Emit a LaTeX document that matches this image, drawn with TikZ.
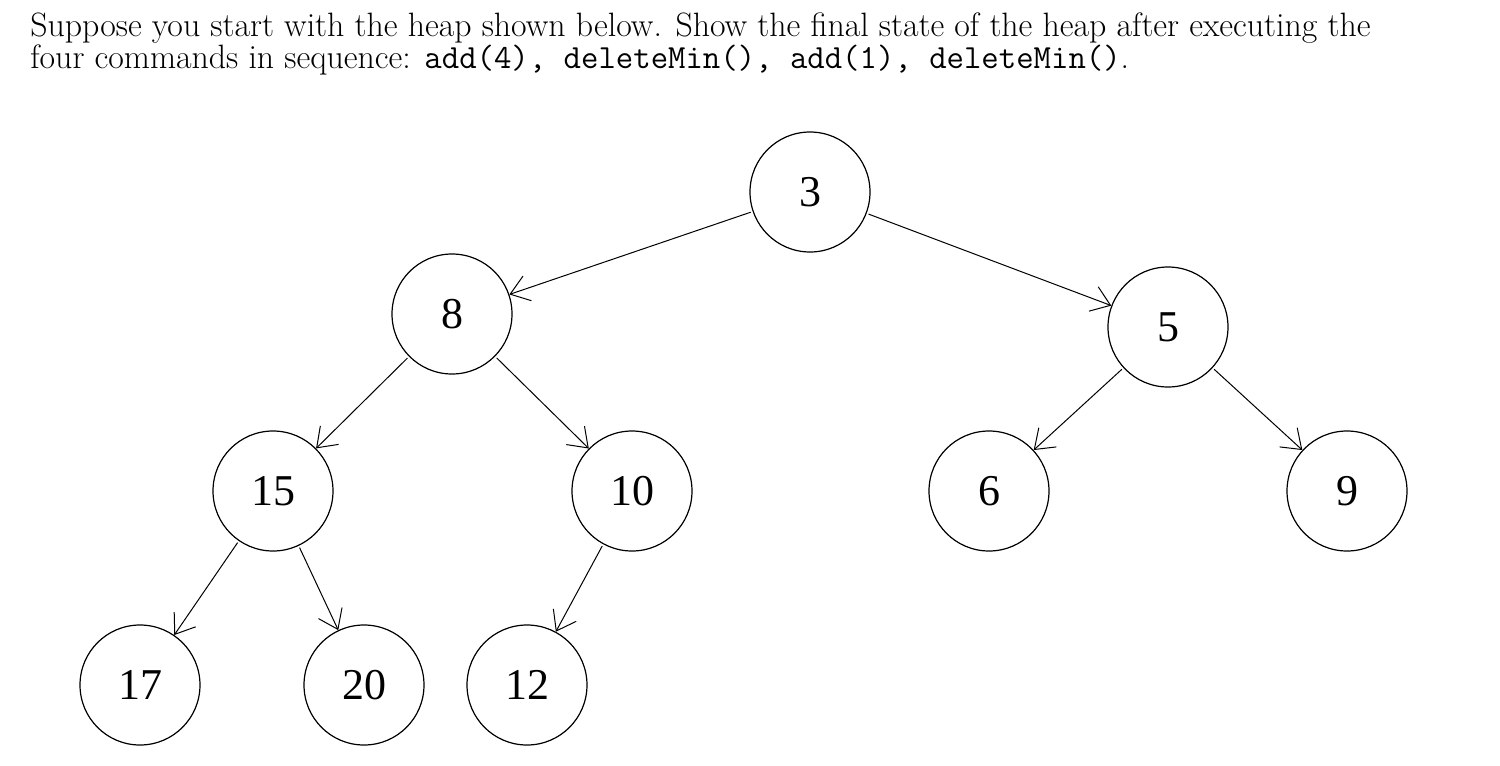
\documentclass[tikz,border=0pt]{standalone}
\usepackage{fontspec}
\newfontfamily\numfont{Liberation Serif}
\usetikzlibrary{arrows.meta}
\begin{document}
\begin{tikzpicture}[x=0.5pt,y=-0.5pt,
  hnode/.style={circle,draw,line width=0.6pt,minimum size=60pt,inner sep=0pt,font=\numfont\fontsize{22}{22}\selectfont},
  hedge/.style={line width=0.5pt,-{Straight Barb[length=9pt,width=13pt,line width=0.5pt]},shorten <=1pt,shorten >=0pt}]
\useasboundingbox (0,0) rectangle (1500,766);
\node[anchor=north west,align=left,inner sep=0pt,font=\fontsize{16.9}{14.6}\selectfont] (txt) at (30,12)
{Suppose you start with the heap shown below. Show the final state of the heap after executing the\\ four commands in sequence: \texttt{add(4), deleteMin(), add(1), deleteMin()}.};
\node[hnode] (n3) at (810,192) {3};
\node[hnode] (n8) at (452,314) {8};
\node[hnode] (n5) at (1168,327) {5};
\node[hnode] (n15) at (273,491) {15};
\node[hnode] (n10) at (632,491) {10};
\node[hnode] (n6) at (989,491) {6};
\node[hnode] (n9) at (1347,491) {9};
\node[hnode] (n17) at (140,685) {17};
\node[hnode] (n20) at (364,685) {20};
\node[hnode] (n12) at (527,685) {12};
\draw[hedge] (n3) -- (n8);
\draw[hedge] (n3) -- (n5);
\draw[hedge] (n8) -- (n15);
\draw[hedge] (n8) -- (n10);
\draw[hedge] (n5) -- (n6);
\draw[hedge] (n5) -- (n9);
\draw[hedge] (n15) -- (n17);
\draw[hedge] (n15) -- (n20);
\draw[hedge] (n10) -- (n12);
\end{tikzpicture}
\end{document}
